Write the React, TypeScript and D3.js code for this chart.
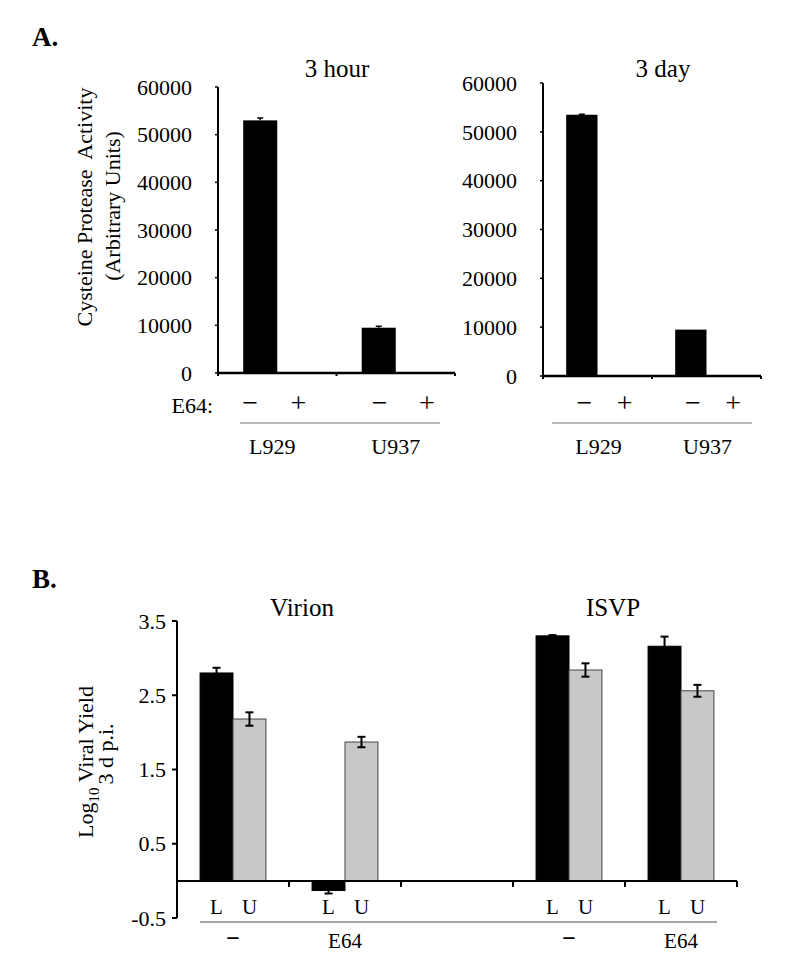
import React from "react";
import * as d3 from "d3";

// ---------- Data ----------
const cellLines = ["L929", "U937"];
const e64States = ["−", "+"];
const hour3Values = [53000, 200, 9500, 150]; // L929-, L929+, U937-, U937+
const hour3Errors = [500, 0, 300, 0];
const day3Values = [53500, 100, 9500, 100];
const day3Errors = [100, 0, 0, 0];
const aTicks = [0, 10000, 20000, 30000, 40000, 50000, 60000];

const bGroups = ["Virion -", "Virion E64", "gap", "ISVP -", "ISVP E64"];
const bSeries = ["L", "U"];
const bLValues = [2.8, -0.13, NaN, 3.3, 3.16];
const bLErrors = [0.07, 0.04, NaN, 0.01, 0.13];
const bUValues = [2.18, 1.87, NaN, 2.84, 2.56];
const bUErrors = [0.09, 0.07, NaN, 0.09, 0.08];
const bTicks = [-0.5, 0.5, 1.5, 2.5, 3.5];

const FONT = "'Liberation Serif', 'Times New Roman', serif";

type PanelAProps = {
  x0: number; x1: number; yTop: number; yZero: number;
  values: number[]; errors: number[]; title: string; showE64Label: boolean;
  titleX: number; signOffsets: number[]; lineX: [number, number]; nameOffsets: number[];
};

function PanelA({ x0, x1, yTop, yZero, values, errors, title, showE64Label, titleX, signOffsets, lineX, nameOffsets }: PanelAProps) {
  const y = d3.scaleLinear().domain([0, 60000]).range([yZero, yTop]);
  const xb = d3.scaleBand().domain(cellLines).range([x0, x1]).paddingInner(0).paddingOuter(0);
  const xs = d3.scaleBand().domain(e64States).range([0, xb.bandwidth()]).paddingInner(0).paddingOuter(0.74);
  const bars: { x: number; w: number; v: number; e: number }[] = [];
  cellLines.forEach((c, ci) => {
    e64States.forEach((s, si) => {
      const i = ci * 2 + si;
      bars.push({ x: (xb(c) as number) + (xs(s) as number), w: xs.bandwidth(), v: values[i], e: errors[i] });
    });
  });
  const lineY = 423;
  return (
    <g fontFamily={FONT}>
      <text x={titleX} y={77} fontSize={25} textAnchor="middle">{title}</text>
      {bars.map((b, i) => (
        <rect key={i} x={b.x} y={y(b.v)} width={b.w} height={yZero - y(b.v)} fill="#000" />
      ))}
      {bars.map((b, i) => b.e > 0 ? (
        <g key={"e" + i} stroke="#000" strokeWidth={1.5}>
          <line x1={b.x + b.w / 2} x2={b.x + b.w / 2} y1={y(b.v)} y2={y(b.v + b.e)} />
          <line x1={b.x + b.w / 2 - 3} x2={b.x + b.w / 2 + 3} y1={y(b.v + b.e)} y2={y(b.v + b.e)} />
        </g>
      ) : null)}
      {/* y axis */}
      <line x1={x0} x2={x0} y1={yTop} y2={yZero} stroke="#000" strokeWidth={2} />
      {aTicks.map((t) => (
        <g key={t}>
          <line x1={x0 - 3} x2={x0} y1={y(t)} y2={y(t)} stroke="#000" strokeWidth={1.5} />
          <text x={x0 - 26} y={y(t)} dy="0.35em" fontSize={22} textAnchor="end">{t}</text>
        </g>
      ))}
      {/* x axis */}
      <line x1={x0} x2={x1} y1={yZero} y2={yZero} stroke="#000" strokeWidth={2.5} />
      {[x0, (x0 + x1) / 2, x1].map((tx, i) => (
        <line key={i} x1={tx} x2={tx} y1={yZero} y2={yZero + 3} stroke="#000" strokeWidth={2} />
      ))}
      {bars.map((b, i) => (
        <text key={"l" + i} x={b.x + b.w / 2 + signOffsets[i]} y={412} fontSize={28} textAnchor="middle">
          {e64States[i % 2]}
        </text>
      ))}
      {showE64Label && (
        <text x={213} y={413} fontSize={22} textAnchor="end">E64:</text>
      )}
      <line x1={lineX[0]} x2={lineX[1]} y1={lineY} y2={lineY} stroke="#777" strokeWidth={1.2} />
      {cellLines.map((c, i) => (
        <text key={c} x={(xb(c) as number) + xb.bandwidth() / 2 + nameOffsets[i]} y={454} fontSize={22} textAnchor="middle">{c}</text>
      ))}
    </g>
  );
}

function PanelB() {
  const x0 = 177, x1 = 737;
  const y = d3.scaleLinear().domain([-0.5, 3.5]).range([918, 621]);
  const xb = d3.scaleBand().domain(bGroups).range([x0, x1]).paddingInner(0).paddingOuter(0);
  const xs = d3.scaleBand().domain(bSeries).range([0, xb.bandwidth()]).paddingInner(0).paddingOuter(0.7);
  const y0 = y(0);
  const bars: { x: number; w: number; v: number; e: number; s: string }[] = [];
  bGroups.forEach((g, gi) => {
    if (isNaN(bLValues[gi])) return;
    bars.push({ x: (xb(g) as number) + (xs("L") as number), w: xs.bandwidth(), v: bLValues[gi], e: bLErrors[gi], s: "L" });
    bars.push({ x: (xb(g) as number) + (xs("U") as number), w: xs.bandwidth(), v: bUValues[gi], e: bUErrors[gi], s: "U" });
  });
  const bottomLabels: { g: string; t: string }[] = [
    { g: "Virion -", t: "−" }, { g: "Virion E64", t: "E64" }, { g: "ISVP -", t: "−" }, { g: "ISVP E64", t: "E64" },
  ];
  return (
    <g fontFamily={FONT}>
      <text x={32} y={588} fontSize={27} fontWeight="bold">B.</text>
      <text x={302} y={616} fontSize={25} textAnchor="middle">Virion</text>
      <text x={613} y={616} fontSize={25} textAnchor="middle">ISVP</text>
      <text transform="translate(93,762) rotate(-90)" fontSize={22} textAnchor="middle">
        Log<tspan fontSize={15} dy={6}>10</tspan><tspan dy={-6}> Viral Yield</tspan>
      </text>
      <text transform="translate(113,754) rotate(-90)" fontSize={22} textAnchor="middle">3 d p.i.</text>
      {bars.map((b, i) => (
        <rect key={i} x={b.x} y={Math.min(y(b.v), y0)} width={b.w} height={Math.abs(y(b.v) - y0)}
          fill={b.s === "L" ? "#000" : "#c8c8c8"} stroke={b.s === "L" ? "#000" : "#444"} strokeWidth={1} />
      ))}
      {bars.map((b, i) => {
        const cx = b.x + b.w / 2;
        const lo = y(b.v - b.e), hi = y(b.v + b.e);
        return (
          <g key={"e" + i} stroke="#000" strokeWidth={2}>
            <line x1={cx} x2={cx} y1={lo} y2={hi} />
            <line x1={cx - 4} x2={cx + 4} y1={hi} y2={hi} />
            <line x1={cx - 4} x2={cx + 4} y1={lo} y2={lo} />
          </g>
        );
      })}
      {/* y axis */}
      <line x1={x0} x2={x0} y1={621} y2={918} stroke="#000" strokeWidth={2} />
      {bTicks.map((t) => (
        <g key={t}>
          <line x1={x0 - 5} x2={x0} y1={y(t)} y2={y(t)} stroke="#000" strokeWidth={2} />
          <text x={x0 - 11} y={y(t)} dy="0.35em" fontSize={22} textAnchor="end">{t.toFixed(1)}</text>
        </g>
      ))}
      {/* zero line */}
      <line x1={x0} x2={x1} y1={y0} y2={y0} stroke="#000" strokeWidth={2} />
      {bGroups.map((g) => {
        const tx = (xb(g) as number) + xb.bandwidth();
        return <line key={g} x1={tx} x2={tx} y1={y0} y2={y0 + 6} stroke="#000" strokeWidth={2} />;
      })}
      {bars.map((b, i) => (
        <text key={"l" + i} x={b.x + b.w / 2} y={914} fontSize={21} textAnchor="middle">{b.s}</text>
      ))}
      <line x1={200} x2={717} y1={922} y2={922} stroke="#888" strokeWidth={1.5} />
      {bottomLabels.map((l) => (
        <text key={l.g} x={(xb(l.g) as number) + xb.bandwidth() / 2} y={l.t === "E64" ? 948 : 946}
          fontSize={l.t === "E64" ? 21 : 24} fontWeight={l.t === "E64" ? "normal" : "bold"} textAnchor="middle">{l.t}</text>
      ))}
    </g>
  );
}

export default function App() {
  return (
    <svg width={785} height={968} style={{ position: "absolute", left: 0, top: 0, background: "#fff" }}>
      <rect width={785} height={968} fill="#fff" />
      <g fontFamily={FONT}>
        <text x={32} y={46} fontSize={27} fontWeight="bold">A.</text>
        <text transform="translate(92,207) rotate(-90)" fontSize={22} textAnchor="middle" xmlSpace="preserve">Cysteine Protease  Activity</text>
        <text transform="translate(120,206) rotate(-90)" fontSize={22} textAnchor="middle">(Arbitrary Units)</text>
      </g>
      <PanelA x0={218} x1={455} yTop={87} yZero={373} values={hour3Values} errors={hour3Errors}
        title="3 hour" showE64Label={true} titleX={337} signOffsets={[-10, 4, 1, 14]}
        lineX={[240, 440]} nameOffsets={[-5, 0]} />
      <PanelA x0={543} x1={761} yTop={83} yZero={376} values={day3Values} errors={day3Errors}
        title="3 day" showE64Label={false} titleX={663} signOffsets={[2.5, 11.5, 2, 11]}
        lineX={[552, 752]} nameOffsets={[1, 1]} />
      <PanelB />
    </svg>
  );
}
